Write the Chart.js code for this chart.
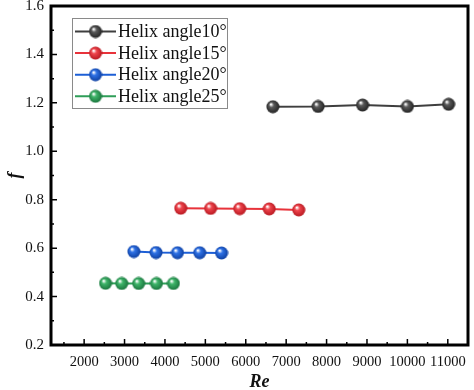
<!DOCTYPE html>
<html>
<head>
<meta charset="utf-8">
<script src="https://cdn.jsdelivr.net/npm/chart.js@4.4.1/dist/chart.umd.min.js"></script>
<style>
  body { margin: 0; background: #fff; }
  #wrap { width: 474px; height: 390px; }
</style>
</head>
<body>
<div id="wrap"><canvas id="chart" width="474" height="390"></canvas></div>
<script>
// data
const seriesLabels = ['Helix angle10°', 'Helix angle15°', 'Helix angle20°', 'Helix angle25°'];
const re10 = [6670, 7790, 8890, 10000, 11020];
const f10 = [1.184, 1.185, 1.191, 1.185, 1.194];
const re15 = [4390, 5130, 5850, 6580, 7310];
const f15 = [0.765, 0.764, 0.763, 0.762, 0.758];
const re20 = [3230, 3780, 4310, 4860, 5400];
const f20 = [0.586, 0.582, 0.581, 0.581, 0.580];
const re25 = [2530, 2930, 3350, 3790, 4210];
const f25 = [0.455, 0.454, 0.454, 0.454, 0.454];
const xTicks = [2000, 3000, 4000, 5000, 6000, 7000, 8000, 9000, 10000, 11000];
const yTicks = [0.2, 0.4, 0.6, 0.8, 1.0, 1.2, 1.4, 1.6];

const lineColors = ['#3f3f3f', '#e8333b', '#1d5fd6', '#2f9e58'];
const ballColors = [['#5a5a5a', '#1e1e1e'], ['#f0464e', '#b3141c'], ['#2f72e6', '#0c3c9c'], ['#3fb56a', '#17703a']];

Chart.defaults.font.family = '"Liberation Serif", "Times New Roman", serif';
Chart.defaults.color = '#111';

function makeBall(light, dark) {
    const c = document.createElement('canvas');
    c.width = 14; c.height = 14;
    const ctx = c.getContext('2d');
    const g = ctx.createRadialGradient(5, 4.5, 0.5, 7, 7, 7);
    g.addColorStop(0, '#ffffff');
    g.addColorStop(0.3, light);
    g.addColorStop(1, dark);
    ctx.fillStyle = g;
    ctx.beginPath();
    ctx.arc(7, 7, 6.5, 0, Math.PI * 2);
    ctx.fill();
    return c;
}
const balls = ballColors.map(b => makeBall(b[0], b[1]));

function toPoints(xs, ys) {
    return xs.map((x, i) => ({ x: x, y: ys[i] }));
}
const allData = [toPoints(re10, f10), toPoints(re15, f15), toPoints(re20, f20), toPoints(re25, f25)];

const datasets = allData.map((d, i) => ({
    label: seriesLabels[i],
    data: d,
    borderColor: lineColors[i],
    backgroundColor: lineColors[i],
    borderWidth: 2,
    pointStyle: balls[i],
    tension: 0
}));

// frame, inward ticks and boxed legend
const framePlugin = {
    id: 'frame',
    afterDraw(chart) {
        const ctx = chart.ctx;
        const a = chart.chartArea;
        const xs = chart.scales.x, ys = chart.scales.y;
        ctx.save();
        ctx.strokeStyle = '#000';
        ctx.lineWidth = 1.5;
        ctx.beginPath();
        for (let v = 1500; v <= 11000; v += 500) {
            const px = xs.getPixelForValue(v);
            const len = v % 1000 === 0 ? 6 : 3;
            ctx.moveTo(px, a.bottom);
            ctx.lineTo(px, a.bottom - len);
        }
        for (let k = 3; k <= 15; k++) {
            const py = ys.getPixelForValue(k / 10);
            const len = k % 2 === 0 ? 6 : 3;
            ctx.moveTo(a.left, py);
            ctx.lineTo(a.left + len, py);
        }
        ctx.stroke();
        ctx.lineWidth = 3;
        ctx.strokeRect(a.left, a.top, a.right - a.left, a.bottom - a.top);

        // legend
        ctx.lineWidth = 1;
        ctx.strokeStyle = '#8a8a8a';
        ctx.strokeRect(72.5, 18.5, 155, 90);
        ctx.font = '18px "Liberation Serif", serif';
        ctx.textBaseline = 'middle';
        chart.data.datasets.forEach((ds, i) => {
            const y = 31.5 + i * 21.6;
            ctx.strokeStyle = ds.borderColor;
            ctx.lineWidth = 2;
            ctx.beginPath();
            ctx.moveTo(75, y);
            ctx.lineTo(116, y);
            ctx.stroke();
            ctx.drawImage(ds.pointStyle, 95.5 - 7, y - 7);
            ctx.fillStyle = '#111';
            ctx.fillText(ds.label, 118, y + 1);
        });
        ctx.restore();
    }
};

new Chart(document.getElementById('chart'), {
    type: 'line',
    data: { datasets: datasets },
    options: {
        responsive: false,
        animation: false,
        layout: { padding: { top: 6, right: 3, left: 0, bottom: 0 } },
        plugins: { legend: { display: false }, tooltip: { enabled: false } },
        scales: {
            x: {
                type: 'linear',
                min: 1180,
                max: 11500,
                grid: { display: false, drawTicks: false },
                border: { display: false },
                afterBuildTicks(scale) { scale.ticks = xTicks.map(v => ({ value: v })); },
                afterFit(scale) { scale.height = 45; scale.paddingLeft = 0; scale.paddingRight = 0; },
                ticks: { padding: 8, maxRotation: 0, autoSkip: false, font: { size: 14.5 }, color: '#111',
                    callback: v => String(v) },
                title: { display: true, text: 'Re', font: { size: 18, weight: 'bold', style: 'italic' }, color: '#111', padding: { top: -3, bottom: -3 } }
            },
            y: {
                min: 0.2,
                max: 1.6,
                grid: { display: false, drawTicks: false },
                border: { display: false },
                afterBuildTicks(scale) { scale.ticks = yTicks.map(v => ({ value: v })); },
                afterFit(scale) { scale.width = 51; scale.paddingTop = 0; scale.paddingBottom = 0; },
                ticks: { padding: 7, font: { size: 15 }, color: '#111', callback: v => Number(v).toFixed(1) },
                title: { display: true, text: 'f', font: { size: 18, weight: 'bold', style: 'italic' }, color: '#111', padding: { top: 5, bottom: 5 } }
            }
        }
    },
    plugins: [framePlugin]
});
</script>
</body>
</html>
